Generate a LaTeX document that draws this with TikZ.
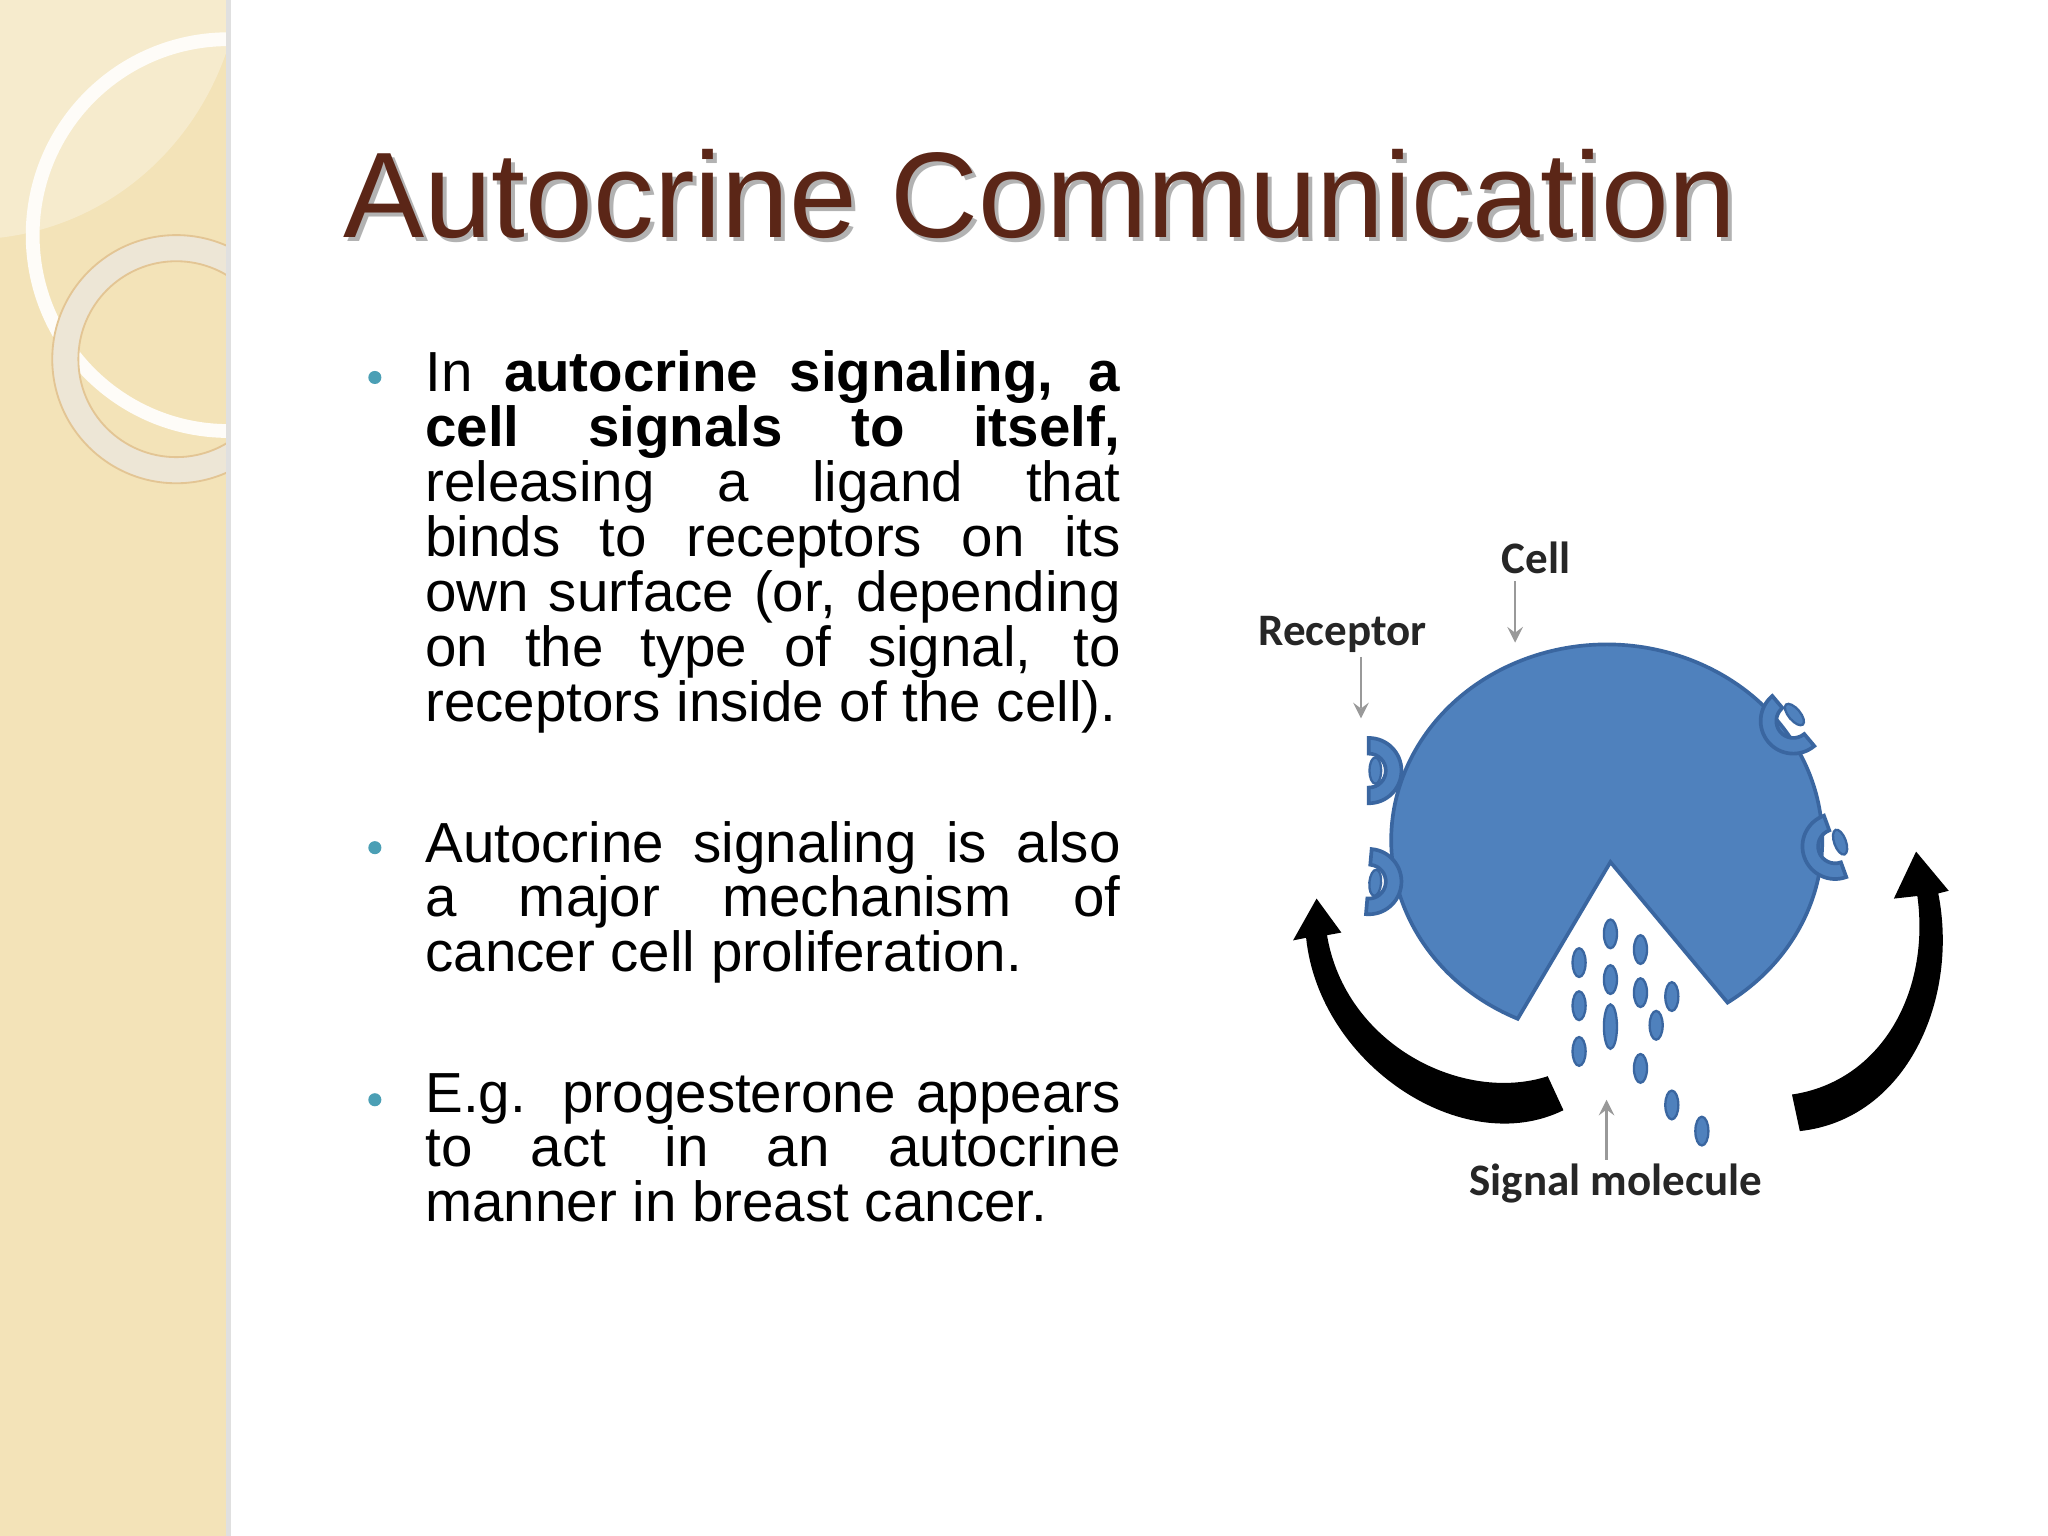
\documentclass[tikz,border=0pt]{standalone}
\usepackage{fontspec}
\setmainfont{Liberation Sans}
\newfontfamily\calib{Carlito}
\begin{document}
\begin{tikzpicture}[x=0.01cm,y=-0.01cm,
  body/.style={anchor=north west,text width=5.32cm,align=justify,inner sep=0pt,font=\fontsize{12.3}{11.95}\selectfont},
  bul/.style={circle,fill=bulcol,inner sep=0pt,minimum size=0.1cm},
  lab/.style={font=\calib\bfseries\fontsize{9.8}{10}\selectfont,text=black!85},
  thin/.style={draw=gray!80,line width=0.5pt,-stealth},
  cellfill/.style={fill=cellblue,draw=celledge,line width=0.8pt},
  mol/.style={fill=cellblue,draw=celledge,line width=0.5pt}]
\definecolor{panel}{HTML}{F3E3B8}
\definecolor{ringc}{HTML}{EDE6D6}
\definecolor{bulcol}{HTML}{4B9FB5}
\definecolor{titlec}{HTML}{5B2617}
\definecolor{cellblue}{HTML}{4F81BD}
\definecolor{celledge}{HTML}{3A66A0}
\useasboundingbox (0,0) rectangle (1568,1176);
\fill[white] (0,0) rectangle (1568,1176);
% left panel
\fill[panel] (0,0) rectangle (173,1176);
\fill[black!12] (173,0) rectangle (177,1176);
\begin{scope}
\clip (0,0) rectangle (173,1176);
\fill[white,opacity=0.3] (0,0) -- (183,0) .. controls (170,90) and (100,170) .. (0,182) -- cycle;
\draw[white!90!panel,line width=3pt] (175,180) circle (150);
\fill[ringc,even odd rule,draw=panel!70!brown] (135,275) circle (95) (135,275) circle (75);
\end{scope}
% title
\node[anchor=base west,inner sep=0pt,text=black!30,font=\fontsize{26.5}{30}\selectfont] at (265,185) {Autocrine Communication};
\node[anchor=base west,inner sep=0pt,text=titlec,font=\fontsize{26.5}{30}\selectfont] (title) at (262,182) {Autocrine Communication};
% bullets
\node[bul] (b1) at (287,289) {};
\node[bul] (b2) at (287,649) {};
\node[bul] (b3) at (287,842) {};
\node[body] (t1) at (325,268) {\hyphenpenalty=10000 In \textbf{autocrine signaling, a}\linebreak \textbf{cell signals to itself,}\linebreak releasing a ligand that\linebreak binds to receptors on its\linebreak own surface (or, depending\linebreak on the type of signal, to\linebreak receptors inside of the cell).};
\node[body] (t2) at (325,628) {\hyphenpenalty=10000 Autocrine signaling is also\linebreak a major mechanism of\linebreak cancer cell proliferation.};
\node[body] (t3) at (325,821) {\hyphenpenalty=10000 E.g. progesterone appears\linebreak to act in an autocrine\linebreak manner in breast cancer.};
% cell
\path[cellfill] (1233,660) -- (1162,780) arc[start angle=-114.4,end angle=-415.9,x radius=165,y radius=-150] -- cycle;
% receptors: half rings (angle = opening direction)
\foreach \cx/\cy/\ang in {1048/590/180,1048/675/185,1373/552/-40,1405/648/-20}{
  \path[cellfill] (\cx,\cy) ++(\ang-90:25) arc[start angle=\ang-90,end angle=\ang-270,radius=25]
     -- ++(\ang-90:12) arc[start angle=\ang-270,end angle=\ang-90,radius=13] -- cycle;
  \path[mol,rotate around={-\ang:(\cx,\cy)}] (\cx,\cy) ++(\ang:5) ellipse (4.5 and 10);
}
% signal molecules
\foreach \mx/\my in {1233/715,1256/727,1209/737,1233/750,1256/760,1280/763,1209/770,1268/785,1209/805,1256/818,1280/846,1303/866}{
  \path[mol] (\mx,\my) ellipse (5 and 11);
}
\path[mol] (1233,786) ellipse (5 and 17);
% big arrows
\fill[black] (1197,850) .. controls (1120,888) and (1010,815) .. (1000,718)
  -- (990,720) -- (1008,688) -- (1027,714) -- (1016,716)
  .. controls (1030,800) and (1120,845) .. (1185,824) -- cycle;
\fill[black] (1378,866) .. controls (1460,857) and (1500,765) .. (1484,684)
  -- (1492,682) -- (1467,652) -- (1450,688) -- (1468,686)
  .. controls (1478,760) and (1440,828) .. (1372,838) -- cycle;
% labels
\node[lab] (cell) at (1176,427) {Cell};
\node[lab] (rec) at (1028,486) {Receptor};
\node[lab] (sig) at (1237,906) {Signal molecule};
\coordinate (cellpt) at (1160,492);
\coordinate (recpt) at (1042,550);
\coordinate (sigpt) at (1230,842);
\draw[thin] (1160,445) -- (cellpt);
\draw[thin] (1042,503) -- (recpt);
\draw[thin] (1230,888) -- (sigpt);
\end{tikzpicture}
\end{document}
